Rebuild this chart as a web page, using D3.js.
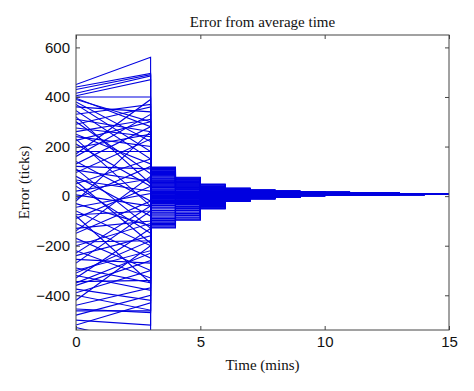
<!DOCTYPE html>
<html>
<head>
<meta charset="utf-8">
<script src="https://cdn.jsdelivr.net/npm/d3@7"></script>
<style>
  html, body { margin: 0; padding: 0; background: #fff; }
  svg { display: block; font-family: "Liberation Serif", "DejaVu Serif", serif; }
  .axis text { font-size: 15px; fill: #111; }
  .axis path { display: none; }
  .axis line { stroke: #444; }
</style>
</head>
<body>
<svg id="chart" width="474" height="391"></svg>
<script>
// values: error at t = 0 and t = 3 min (before first sync)
const errAt0 = [450, 440, 430, 415, 405, 400, 395, 390, 380, 360,
  345, 330, 310, 300, 290, 275, 260, 250, 240, 225,
  210, 195, 180, 160, 140, 120, 105, 95, 80, 65,
  50, 40, 20, 5, -10, -30, -45, -60, -75, -90,
  -110, -130, -150, -170, -185, -200, -220, -240, -255, -270,
  -290, -300, -320, -330, -345, -360, -375, -390, -400, -420,
  -440, -455, -463, -480, -500, -520, -530, 370, 320, 230,
  170, 110, -20, -140, -230, -310, -350, 130, 60, -80];
const errAt3 = [560, 495, 490, 485, 470, 400, 280, 300, 220, 340,
  150, 370, 260, 90, 360, 240, 310, 130, 200, 300,
  40, 250, 180, 330, -20, 110, 60, 230, -80, 20,
  150, -150, 70, -40, 120, -120, 10, -200, -60, 40,
  -250, -100, -20, -300, -180, -110, -330, -160, -270, -60,
  -350, -220, -380, -130, -340, -260, -420, -300, -460, -200,
  -370, -470, -463, -400, -520, -430, -600, 180, 50, -40,
  390, -130, 260, 80, -40, -180, -230, 280, -190, -350];

// error held after each sync, one list per minute from 3 to 14
const stepMinutes = [3, 4, 5, 6, 7, 8, 9, 10, 11, 12, 13, 14];
const errStep3 = [112, -45, 87, 30, -128, 64, -10, 101, -76, 18,
  55, -98, 5, -30, 117, 72, -115, 40, -60, -5,
  95, 22, -85, 48, -20, 80, -105, 10, 60, -40,
  105, -68, 35, -15, 90, -120, 25, 68, -52, 0,
  108, -90, 45, -25, 76, -8, 15, -110, 58, -35,
  98, -72, 28, -2, 84, -58, 12, -95, 50, -18,
  115, -80, 38, -48, 70, 3, -125, 62, -12, 92,
  -65, 20, 42, -100, 8, 100, -38, 52, -22, 82];
const errStep4 = [70, -30, 55, 12, -95, 40, -8, 65, -50, 20,
  35, -75, 2, -22, 76, 48, -88, 28, -42, -4,
  60, 15, -60, 32, -15, 52, -80, 8, 38, -28,
  68, -48, 24, -10, 58, -92, 18, 44, -36, 0,
  72, -65, 30, -18, 50, -6, 10, -85, 36, -25,
  62, -55, 20, -2, 56, -40, 6, -70, 34, -12,
  74, -58, 26, -34, 46, 4, -97, 42, -9, 60,
  -45, 14, 28, -78, 5, 66, -26, 36, -16, 54];
const errStep5 = [45, -18, 32, 8, -50, 25, -4, 40, -30, 12,
  20, -42, 2, -12, 49, 28, -48, 16, -24, -2,
  36, 10, -35, 18, -8, 30, -45, 5, 22, -16,
  42, -28, 14, -6, 34, -52, 10, 26, -20, 0,
  46, -38, 18, -10, 30, -3, 6, -44, 20, -14,
  38, -32, 12, 1, 33, -22, 4, -40, 19, -7,
  47, -34, 15, -19, 27, 3, -50, 24, -5, 35,
  -26, 8, 16, -43, 3, 39, -15, 21, -9, 31];
const errStep6 = [32, -8, 22, 9, -20, 18, 2, 28, -12, 10,
  15, -17, 5, -4, 33, 20, -19, 12, -9, 3,
  25, 8, -14, 14, -2, 21, -18, 6, 16, -6,
  29, -11, 11, 0, 24, -21, 8, 19, -7, 4,
  31, -15, 13, -3, 22, 1, 6, -16, 15, -5,
  27, -12, 10, 4, 23, -8, 5, -15, 14, -1,
  30, -13, 12, -7, 19, 5, -20, 17, 0, 26,
  -10, 7, 13, -17, 4, 28, -5, 16, -3, 22];
const errStep7 = [25, -4, 18, 9, -10, 15, 4, 22, -6, 10,
  13, -8, 6, 0, 26, 17, -11, 11, -3, 5,
  20, 8, -7, 13, 2, 18, -9, 7, 14, -1,
  23, -5, 10, 3, 19, -10, 8, 16, -2, 5,
  24, -7, 12, 1, 18, 4, 7, -8, 13, -1,
  21, -6, 10, 5, 19, -3, 6, -7, 12, 2,
  24, -6, 11, -2, 16, 6, -11, 15, 3, 20,
  -4, 8, 12, -8, 5, 22, 0, 14, 1, 18];
const errStep8 = [21, 0, 15, 9, -5, 13, 5, 19, -2, 10,
  12, -4, 7, 3, 22, 15, -5, 10, 1, 6,
  17, 8, -3, 12, 4, 16, -4, 8, 13, 2,
  19, -1, 10, 5, 16, -5, 8, 14, 2, 6,
  20, -3, 11, 4, 15, 6, 7, -4, 12, 3,
  18, -2, 9, 6, 16, 0, 7, -3, 11, 4,
  20, -2, 10, 2, 14, 7, -5, 13, 5, 17,
  0, 8, 11, -4, 6, 19, 3, 12, 4, 15];
const errStep9 = [18, 4, 13, 9, 2, 12, 7, 16, 3, 10,
  11, 2, 8, 5, 18, 13, 2, 10, 4, 7,
  15, 9, 3, 11, 6, 14, 2, 8, 12, 5,
  16, 3, 10, 6, 14, 2, 9, 13, 4, 7,
  17, 2, 11, 5, 13, 7, 8, 2, 11, 5,
  15, 3, 9, 7, 14, 4, 8, 2, 10, 6,
  17, 3, 10, 4, 12, 8, 2, 12, 6, 15,
  4, 9, 10, 2, 7, 16, 5, 11, 6, 13];
const errStep10 = [16, 5, 12, 9, 3, 11, 7, 14, 4, 10,
  10, 3, 8, 6, 16, 12, 3, 10, 5, 7,
  14, 9, 4, 11, 7, 13, 3, 8, 11, 6,
  15, 4, 10, 7, 13, 3, 9, 12, 5, 8,
  15, 3, 10, 6, 12, 8, 8, 3, 11, 6,
  14, 4, 9, 7, 13, 5, 8, 3, 10, 7,
  16, 4, 10, 5, 11, 8, 3, 12, 7, 14,
  5, 9, 10, 3, 8, 15, 6, 11, 7, 12];
const errStep11 = [14, 6, 11, 9, 5, 10, 8, 13, 6, 10,
  10, 5, 8, 7, 14, 11, 5, 9, 6, 8,
  12, 9, 6, 10, 7, 12, 5, 8, 11, 7,
  13, 6, 10, 8, 12, 5, 9, 11, 6, 8,
  13, 5, 10, 7, 11, 8, 9, 5, 10, 7,
  12, 6, 9, 8, 12, 6, 8, 5, 10, 7,
  14, 6, 10, 6, 11, 9, 5, 11, 8, 13,
  6, 9, 10, 5, 8, 13, 7, 10, 8, 11];
const errStep12 = [12, 6, 10, 9, 5, 10, 8, 11, 6, 9,
  9, 5, 8, 7, 12, 10, 5, 9, 6, 8,
  11, 8, 6, 9, 7, 11, 5, 8, 10, 7,
  11, 6, 9, 8, 11, 5, 8, 10, 6, 8,
  12, 5, 9, 7, 10, 8, 8, 5, 9, 7,
  11, 6, 9, 8, 11, 6, 8, 5, 9, 7,
  12, 6, 9, 6, 10, 8, 5, 10, 7, 11,
  6, 8, 9, 5, 8, 12, 7, 9, 8, 10];
const errStep13 = [10, 7, 9, 8, 6, 9, 8, 10, 7, 9,
  8, 6, 8, 7, 10, 9, 6, 8, 7, 8,
  9, 8, 7, 9, 7, 10, 6, 8, 9, 7,
  10, 7, 9, 8, 9, 6, 8, 9, 7, 8,
  10, 6, 9, 7, 9, 8, 8, 6, 9, 7,
  9, 7, 8, 8, 10, 7, 8, 6, 9, 8,
  10, 7, 9, 7, 9, 8, 6, 9, 8, 10,
  7, 8, 9, 6, 8, 10, 7, 9, 8, 9];
const errStep14 = [9, 8, 8, 8, 7, 9, 8, 9, 7, 8,
  8, 7, 8, 8, 9, 9, 7, 8, 8, 8,
  9, 8, 7, 8, 8, 9, 7, 8, 9, 8,
  9, 8, 8, 8, 9, 7, 8, 9, 8, 8,
  9, 7, 8, 8, 9, 8, 8, 7, 9, 8,
  9, 8, 8, 8, 9, 7, 8, 7, 8, 8,
  9, 8, 8, 7, 9, 8, 7, 9, 8, 9,
  8, 8, 9, 7, 8, 9, 8, 8, 8, 9];
const errSteps = [errStep3, errStep4, errStep5, errStep6, errStep7, errStep8,
  errStep9, errStep10, errStep11, errStep12, errStep13, errStep14];

const xTicks = [0, 5, 10, 15];
const yTicks = [-400, -200, 0, 200, 400, 600];

const margin = { top: 35, right: 25, bottom: 61, left: 76 };
const width = 474, height = 391;
const innerW = width - margin.left - margin.right;
const innerH = height - margin.top - margin.bottom;

const x = d3.scaleLinear().domain([0, 15]).range([0, innerW]);
const y = d3.scaleLinear().domain([-540, 650]).range([innerH, 0]);

const svg = d3.select("#chart");
const g = svg.append("g").attr("transform", `translate(${margin.left},${margin.top})`);

g.append("clipPath").attr("id", "clip")
  .append("rect").attr("width", innerW).attr("height", innerH);

// one path per node: drift up to the first sync, then held steps
const series = errAt0.map((e0, i) => {
  const pts = [[0, e0], [3, errAt3[i]]];
  stepMinutes.forEach((m, k) => {
    pts.push([m, errSteps[k][i]], [m + 1, errSteps[k][i]]);
  });
  return pts;
});

const line = d3.line().x((d) => x(d[0])).y((d) => y(d[1]));

g.append("g").attr("clip-path", "url(#clip)")
  .selectAll("path")
  .data(series)
  .join("path")
  .attr("d", line)
  .attr("fill", "none")
  .attr("stroke", "#0000e0")
  .attr("stroke-width", 1.1);

// axes, ticks pointing inwards on all four sides
const tick = 4;
g.append("g").attr("class", "axis")
  .attr("transform", `translate(0,${innerH})`)
  .call(d3.axisBottom(x).tickValues(xTicks).tickSizeInner(-tick).tickSizeOuter(0).tickPadding(6));
g.append("g").attr("class", "axis")
  .call(d3.axisTop(x).tickValues(xTicks).tickSizeInner(-tick).tickSizeOuter(0).tickFormat(""));
g.append("g").attr("class", "axis")
  .call(d3.axisLeft(y).tickValues(yTicks).tickSizeInner(-tick).tickSizeOuter(0).tickPadding(6));
g.append("g").attr("class", "axis")
  .attr("transform", `translate(${innerW},0)`)
  .call(d3.axisRight(y).tickValues(yTicks).tickSizeInner(-tick).tickSizeOuter(0).tickFormat(""));

g.append("rect")
  .attr("width", innerW).attr("height", innerH)
  .attr("fill", "none").attr("stroke", "#444").attr("stroke-width", 1);

svg.append("text")
  .attr("x", margin.left + innerW / 2).attr("y", 27)
  .attr("text-anchor", "middle").attr("font-size", 15).attr("fill", "#111")
  .text("Error from average time");

svg.append("text")
  .attr("x", margin.left + innerW / 2).attr("y", 370)
  .attr("text-anchor", "middle").attr("font-size", 15).attr("fill", "#111")
  .text("Time (mins)");

svg.append("text")
  .attr("transform", `translate(29,${margin.top + innerH / 2}) rotate(-90)`)
  .attr("text-anchor", "middle").attr("font-size", 15).attr("fill", "#111")
  .text("Error (ticks)");
</script>
</body>
</html>
